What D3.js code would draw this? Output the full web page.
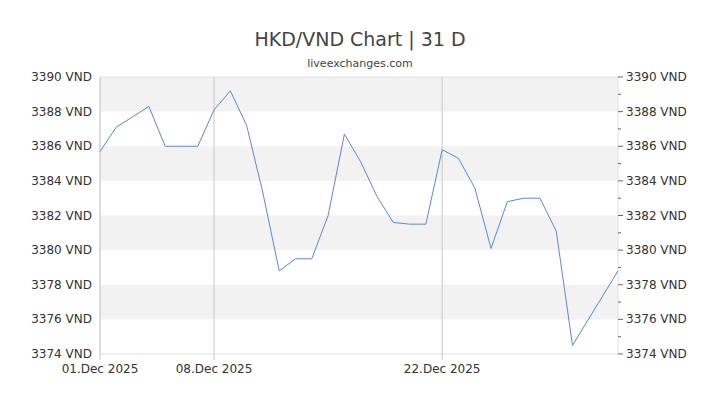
<!DOCTYPE html><html><head><meta charset="utf-8"><script src="https://cdn.jsdelivr.net/npm/d3@7"></script>
<style>body{margin:0;background:#fff}text{font-family:"DejaVu Sans",sans-serif}</style></head><body><svg id="c" width="720" height="405"></svg>
<script>
const dates=["2025-12-01","2025-12-02","2025-12-03","2025-12-04","2025-12-05","2025-12-06","2025-12-07","2025-12-08","2025-12-09","2025-12-10","2025-12-11","2025-12-12","2025-12-13","2025-12-14","2025-12-15","2025-12-16","2025-12-17","2025-12-18","2025-12-19","2025-12-20","2025-12-21","2025-12-22","2025-12-23","2025-12-24","2025-12-25","2025-12-26","2025-12-27","2025-12-28","2025-12-29","2025-12-30","2026-01-01T19:00"];
const values=[3385.7,3387.1,3387.7,3388.3,3386.0,3386.0,3386.0,3388.1,3389.2,3387.2,3383.3,3378.8,3379.5,3379.5,3382.0,3386.7,3385.1,3383.1,3381.6,3381.5,3381.5,3385.8,3385.3,3383.6,3380.1,3382.8,3383.0,3383.0,3381.1,3374.5,3378.8];
const yTicks=[3374,3376,3378,3380,3382,3384,3386,3388,3390];
const xTickDates=["2025-12-01","2025-12-08","2025-12-22"];
const xTickLabels=["01.Dec 2025","08.Dec 2025","22.Dec 2025"];
const p=d3.timeParse("%Y-%m-%d"),pt=d3.isoParse;
const data=dates.map((d,i)=>({d:d.length>10?new Date(2026,0,1,19):p(d),v:values[i]}));
const svg=d3.select("#c");
const L=100,R=618,T=77,B=354;
const x=d3.scaleTime().domain([p("2025-12-01"),new Date(2026,0,1,19)]).range([L,R]);
const y=d3.scaleLinear().domain([3374,3390]).range([B,T]);
for(let i=0;i<yTicks.length-1;i++){if(i%2==1)continue;}
[3376,3380,3384,3388].forEach(v=>svg.append("rect").attr("x",L).attr("width",R-L).attr("y",y(v+2)).attr("height",y(v)-y(v+2)).attr("fill","#f2f2f2"));
svg.append("rect").attr("x",L).attr("y",T).attr("width",R-L).attr("height",B-T).attr("fill","none").attr("stroke","#e0e0e0");
xTickDates.forEach(d=>{const xx=x(p(d));svg.append("line").attr("x1",xx).attr("x2",xx).attr("y1",T).attr("y2",B+6).attr("stroke","#c8c8c8");});
svg.append("path").datum(data).attr("fill","none").attr("stroke","#5b86e5").attr("stroke-width",1).attr("d",d3.line().x(d=>x(d.d)).y(d=>y(d.v)));
const ty=d3.range(3374,3391,1);
ty.forEach(v=>{svg.append("line").attr("x1",R).attr("x2",R+(v%2?3:5)).attr("y1",y(v)).attr("y2",y(v)).attr("stroke","#666");});
yTicks.forEach(v=>{
svg.append("text").attr("x",L-8).attr("y",y(v)+4).attr("text-anchor","end").attr("font-size",12).attr("fill","#333").text(v+" VND");
svg.append("text").attr("x",R+8).attr("y",y(v)+4).attr("font-size",12).attr("fill","#333").text(v+" VND");
});
xTickDates.forEach((d,i)=>svg.append("text").attr("x",x(p(d))).attr("y",B+19).attr("text-anchor","middle").attr("font-size",12).attr("fill","#333").text(xTickLabels[i]));
svg.append("text").attr("x",360).attr("y",46).attr("text-anchor","middle").attr("font-size",19).attr("fill","#444").text("HKD/VND Chart | 31 D");
svg.append("text").attr("x",360).attr("y",67).attr("text-anchor","middle").attr("font-size",11).attr("fill","#444").text("liveexchanges.com");
</script></body></html>
